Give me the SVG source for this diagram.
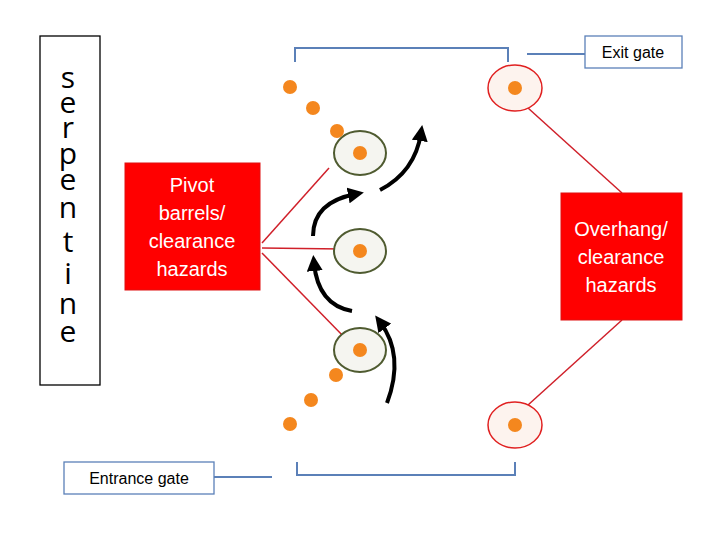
<svg xmlns="http://www.w3.org/2000/svg" width="720" height="540" viewBox="0 0 720 540">
<defs>
<style>
.lt{font-family:"Open Sans","Liberation Sans",sans-serif;font-size:30px;fill:#000;text-anchor:middle}
.rb{fill:#f00;stroke:#e01010}
.wt{font-family:"Liberation Sans",sans-serif;font-size:20px;fill:#fff;text-anchor:middle}
.gb{fill:#fff;stroke:#5b80b8;stroke-width:1.3}
.gt{font-family:"Liberation Sans",sans-serif;font-size:16px;fill:#000;text-anchor:middle}
.bl{fill:none;stroke:#5b80b8;stroke-width:2}
.rl{stroke:#d0202a;stroke-width:1.5}
.dot{fill:#f4871e}
.gc{fill:#f5f5f0;stroke:#4f5b30;stroke-width:2}
.rc{fill:#fdf3ee;stroke:#e02020;stroke-width:1.5}
.ar{fill:none;stroke:#000;stroke-width:4;marker-end:url(#ah)}
</style>
<marker id="ah" markerWidth="4" markerHeight="4" refX="2" refY="2" orient="auto"><path d="M0,0 L4,2 L0,4 z" fill="#000"/></marker>
</defs>
<g id="serpentine">
<rect x="40" y="36" width="60" height="349" fill="#fff" stroke="#000" stroke-width="1.3"/>
<text class="lt" x="68" y="88">s</text><text class="lt" x="68" y="113">e</text><text class="lt" x="68" y="138">r</text><text class="lt" x="68" y="164">p</text><text class="lt" x="68" y="190">e</text><text class="lt" x="68" y="218">n</text><text class="lt" x="68" y="252">t</text><text class="lt" x="68" y="284">i</text><text class="lt" x="68" y="314">n</text><text class="lt" x="68" y="342">e</text>
</g>
<g id="connectors">
<path class="bl" d="M295,62 V48 H508 V62"/>
<path class="bl" d="M297,462 V475 H515 V462"/>
<line class="bl" x1="527" y1="54" x2="585" y2="54"/>
<line class="bl" x1="214" y1="477" x2="272" y2="477"/>
<line class="rl" x1="262" y1="243" x2="329" y2="168"/>
<line class="rl" x1="262" y1="248" x2="342" y2="249"/>
<line class="rl" x1="262" y1="253" x2="347" y2="340"/>
<line class="rl" x1="622" y1="193" x2="528" y2="108"/>
<line class="rl" x1="622" y1="320" x2="528" y2="405"/>
<path class="ar" d="M387,403 Q405,355 380,322"/>
<path class="ar" d="M352,311 Q318,305 314,263"/>
<path class="ar" d="M313,236 Q313,202 356,194"/>
<path class="ar" d="M380,190 Q415,172 421,133"/>
</g>
<g id="pivot"><rect class="rb" x="125" y="163" width="135" height="127"/>
<text class="wt" x="192" y="192">Pivot</text><text class="wt" x="192" y="220">barrels/</text><text class="wt" x="192" y="248">clearance</text><text class="wt" x="192" y="276">hazards</text></g>
<g id="overhang"><rect class="rb" x="561" y="193" width="121" height="127"/>
<text class="wt" x="621" y="236">Overhang/</text><text class="wt" x="621" y="264">clearance</text><text class="wt" x="621" y="292">hazards</text></g>
<g id="exit"><rect class="gb" x="585" y="36" width="97" height="32"/><text class="gt" x="633" y="58">Exit gate</text></g>
<g id="entrance"><rect class="gb" x="64" y="462" width="150" height="32"/><text class="gt" x="139" y="484">Entrance gate</text></g>
<g id="barrels">
<ellipse class="gc" cx="360" cy="153" rx="26" ry="22"/><circle class="dot" cx="360" cy="153" r="7"/>
<ellipse class="gc" cx="360" cy="251" rx="26" ry="22"/><circle class="dot" cx="360" cy="251" r="7"/>
<ellipse class="gc" cx="360" cy="350" rx="26" ry="22"/><circle class="dot" cx="360" cy="350" r="7"/>
<ellipse class="rc" cx="515" cy="88" rx="27" ry="23"/><circle class="dot" cx="515" cy="88" r="7"/>
<ellipse class="rc" cx="515" cy="425" rx="27" ry="23"/><circle class="dot" cx="515" cy="425" r="7"/>
</g>
<g id="dots">
<circle class="dot" cx="290" cy="87" r="7"/><circle class="dot" cx="313" cy="108" r="7"/><circle class="dot" cx="337" cy="131" r="7"/>
<circle class="dot" cx="336" cy="375" r="7"/><circle class="dot" cx="311" cy="400" r="7"/><circle class="dot" cx="290" cy="424" r="7"/>
</g>
</svg>
